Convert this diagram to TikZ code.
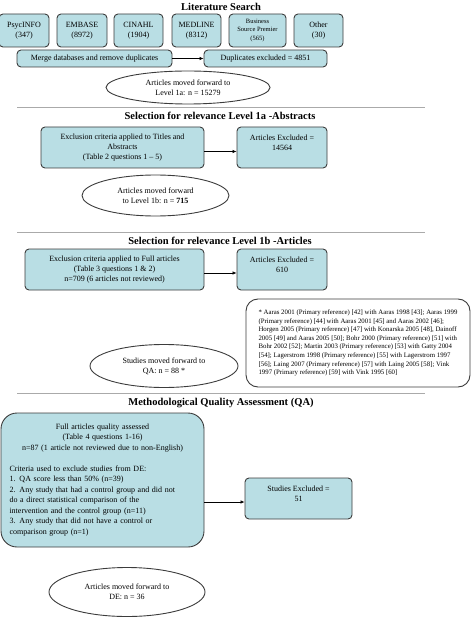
\documentclass[tikz,border=0pt]{standalone}
\usepackage{fontspec}
\setmainfont{Liberation Serif}
\usepackage{tikz}
\usetikzlibrary{shapes.geometric}
\usetikzlibrary{arrows.meta}

\definecolor{boxfill}{RGB}{185,222,228}
\definecolor{boxline}{RGB}{60,60,60}
\definecolor{ruleline}{RGB}{170,170,170}

\tikzset{
    box/.style={draw=boxline, fill=boxfill, line width=0.9pt, rounded corners=4pt, inner sep=1pt, align=center, font=\fontsize{8}{10}\selectfont},
    oval/.style={draw=boxline, fill=white, line width=0.9pt, ellipse, inner sep=0pt, align=center, font=\fontsize{8}{10}\selectfont},
    heading/.style={font=\fontsize{10.5}{12}\selectfont\bfseries},
    arr/.style={draw=black, line width=0.6pt, -{Latex[length=4pt,width=3.5pt]}},
    rule/.style={draw=ruleline, line width=0.8pt},
}

\begin{document}
\begin{tikzpicture}[x=1pt,y=-1pt]
    \useasboundingbox (0,0) rectangle (474,617);

    \node[heading] (search) at (221,7) {Literature Search};

    \node[box, minimum width=50pt, minimum height=33pt] (psyc) at (24,30.5) {PsycINFO\\(347)};
    \node[box, minimum width=50pt, minimum height=33pt] (embase) at (82,30.5) {EMBASE\\(8972)};
    \node[box, minimum width=49pt, minimum height=33pt] (cinahl) at (138.5,30.5) {CINAHL\\(1904)};
    \node[box, minimum width=49pt, minimum height=33pt] (medline) at (196.5,30.5) {MEDLINE\\(8312)};
    \node[box, minimum width=57pt, minimum height=33pt, font=\fontsize{6.5}{8.5}\selectfont] (business) at (257.5,30.5) {Business\\Source Premier\\(565)};
    \node[box, minimum width=49pt, minimum height=33pt] (other) at (318.5,30.5) {Other\\(30)};

    \node[box, minimum width=155pt, minimum height=17pt] (merge) at (94.5,58.5) {Merge databases and remove duplicates};
    \node[box, minimum width=123pt, minimum height=17pt] (dup) at (265.5,58.5) {Duplicates excluded = 4851};
    \node[oval, minimum width=164pt, minimum height=33pt] (levela) at (188,87.5) {Articles moved forward to\\Level 1a: n = 15279};

    \draw[arr] (merge) -- (dup);
    \draw[rule] (17,107) -- (425,107);

    \node[heading] (abstracts) at (220,116) {Selection for relevance Level 1a -Abstracts};

    \node[box, minimum width=163pt, minimum height=41pt] (excla) at (122.5,147.5) {Exclusion criteria applied to Titles and\\Abstracts\\(Table 2 questions 1 -- 5)};
    \node[box, minimum width=90pt, minimum height=41pt] (outa) at (282,147.5) {Articles Excluded =\\14564\\\mbox{}};
    \node[oval, minimum width=147pt, minimum height=41pt] (levelb) at (155.5,195.5) {Articles moved forward\\to Level 1b: n = \textbf{715}};

    \draw[arr] ([yshift=-4pt]excla.east) -- ([yshift=-4pt]outa.west);
    \draw[rule] (17,232) -- (425,232);

    \node[heading] (articles) at (220,241) {Selection for relevance Level 1b -Articles};

    \node[box, minimum width=179pt, minimum height=41pt] (exclb) at (114.5,269.5) {Exclusion criteria applied to Full articles\\(Table 3 questions 1 \& 2)\\n=709 (6 articles not reviewed)};
    \node[box, minimum width=90pt, minimum height=41pt] (outb) at (282,269.5) {Articles Excluded =\\610\\\mbox{}};
    \node[box, fill=white, rounded corners=12pt, minimum width=224pt, minimum height=88pt, align=left, font=\fontsize{6.8}{8.6}\selectfont] (note) at (358,343) {* Aaras 2001 (Primary reference) [42] with Aaras 1998 [43]; Aaras 1999\\(Primary reference) [44] with Aaras 2001 [45] and Aaras 2002 [46];\\Horgen 2005 (Primary reference) [47] with Konarska 2005 [48], Dainoff\\2005 [49] and Aaras 2005 [50]; Bohr 2000 (Primary reference) [51] with\\Bohr 2002 [52]; Martin 2003 (Primary reference) [53] with Gatty 2004\\{[54]}; Lagerstrom 1998 (Primary reference) [55] with Lagerstrom 1997\\{[56]}; Laing 2007 (Primary reference) [57] with Laing 2005 [58]; Vink\\1997 (Primary reference) [59] with Vink 1995 [60]};
    \node[oval, minimum width=148pt, minimum height=43pt] (qaoval) at (164,366) {Studies moved forward to\\QA: n = 88 *};

    \draw[arr] ([yshift=-3.5pt]exclb.east) -- ([yshift=-3.5pt]outb.west);
    \draw[rule] (17,393) -- (425,393);

    \node[heading] (quality) at (221,403) {Methodological Quality Assessment (QA)};

    \node[box, rounded corners=16pt, minimum width=203pt, minimum height=134pt, text width=186pt, align=left, font=\fontsize{8}{10.5}\selectfont] (qa) at (102.5,480) {\centering Full articles quality assessed\\(Table 4 questions 1-16)\\n=87 (1 article not reviewed due to non-English)\par\vspace{10.5pt}\raggedright Criteria used to exclude studies from DE:\\1. QA score less than 50\% (n=39)\\2. Any study that had a control group and did not\\do a direct statistical comparison of the\\intervention and the control group (n=11)\\3. Any study that did not have a control or\\comparison group (n=1)};
    \node[box, minimum width=107pt, minimum height=41pt] (studies) at (298.5,498.5) {Studies Excluded =\\51\\\mbox{}};
    \node[oval, minimum width=156pt, minimum height=49pt] (de) at (127,592) {Articles moved forward to\\DE: n = 36};

    \draw[arr] ([yshift=-3.5pt]qa.east |- studies.west) -- ([yshift=-3.5pt]studies.west);
\end{tikzpicture}
\end{document}
